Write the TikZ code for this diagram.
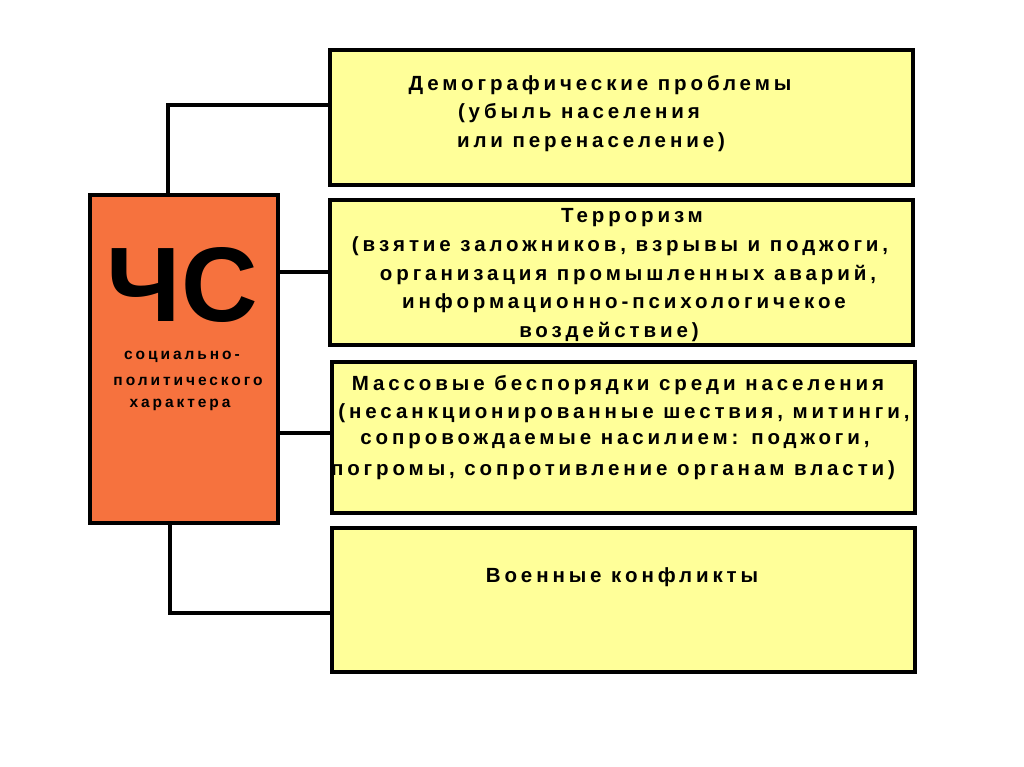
\documentclass[tikz,border=0pt]{standalone}
\usepackage{fontspec}
\setmainfont{Liberation Sans}
\newfontfamily\bx[LetterSpace=19]{Liberation Sans}
\begin{document}
\begin{tikzpicture}[x=1pt,y=-1pt,
  box/.style={draw=black,line width=3.5pt},
  wire/.style={draw=black,line width=3.5pt},
  ln/.style={font=\bx\bfseries\fontsize{20.5}{21}\selectfont,inner sep=0pt,anchor=center},
  sm/.style={font=\bx\bfseries\fontsize{15.5}{16}\selectfont,inner sep=0pt,anchor=center}]
\definecolor{yel}{HTML}{FFFF99}
\definecolor{org}{HTML}{F6723E}
\useasboundingbox[fill=white] (0,0) rectangle (1024,767);
\coordinate (t1) at (168,105);
\coordinate (t4) at (170,613);
\draw[box,fill=org] (90,195) rectangle (278,523);
\draw[box,fill=yel] (330,50) rectangle (913,185);
\draw[box,fill=yel] (330,200) rectangle (913,345);
\draw[box,fill=yel] (332,362) rectangle (915,513);
\draw[box,fill=yel] (332,528) rectangle (915,672);
\draw[wire] (168,195) -- (t1) -- (330,105);
\draw[wire] (278,272) -- (330,272);
\draw[wire] (278,433) -- (332,433);
\draw[wire] (170,523) -- (t4) -- (332,613);
\node (cs) at (182,285) {\bfseries\fontsize{106}{106}\selectfont ЧС};
\node[sm] (o1) at (182,357) {социально-};
\node[sm] (o2) at (188,381) {политического};
\node[sm] (o3) at (180,405) {характера};
\node[ln] (a1) at (600,85) {Демографические проблемы};
\node[ln] (a2) at (579,113) {(убыль населения};
\node[ln] (a3) at (591,142) {или перенаселение)};
\node[ln] (b1) at (632,218) {Терроризм};
\node[ln] (b2) at (620,246) {(взятие заложников, взрывы и поджоги,};
\node[ln] (b3) at (628,275) {организация промышленных аварий,};
\node[ln] (b4) at (624,303) {информационно-психологичекое};
\node[ln] (b5) at (609,332) {воздействие)};
\node[ln] (c1) at (618,385) {Массовые беспорядки среди населения};
\node[ln] (c2) at (624,413) {(несанкционированные шествия, митинги,};
\node[ln] (c3) at (615,441) {сопровождаемые насилием: поджоги,};
\node[ln] (c4) at (613,470) {погромы, сопротивление органам власти)};
\node[ln] (d1) at (622,577) {Военные конфликты};
\end{tikzpicture}
\end{document}
